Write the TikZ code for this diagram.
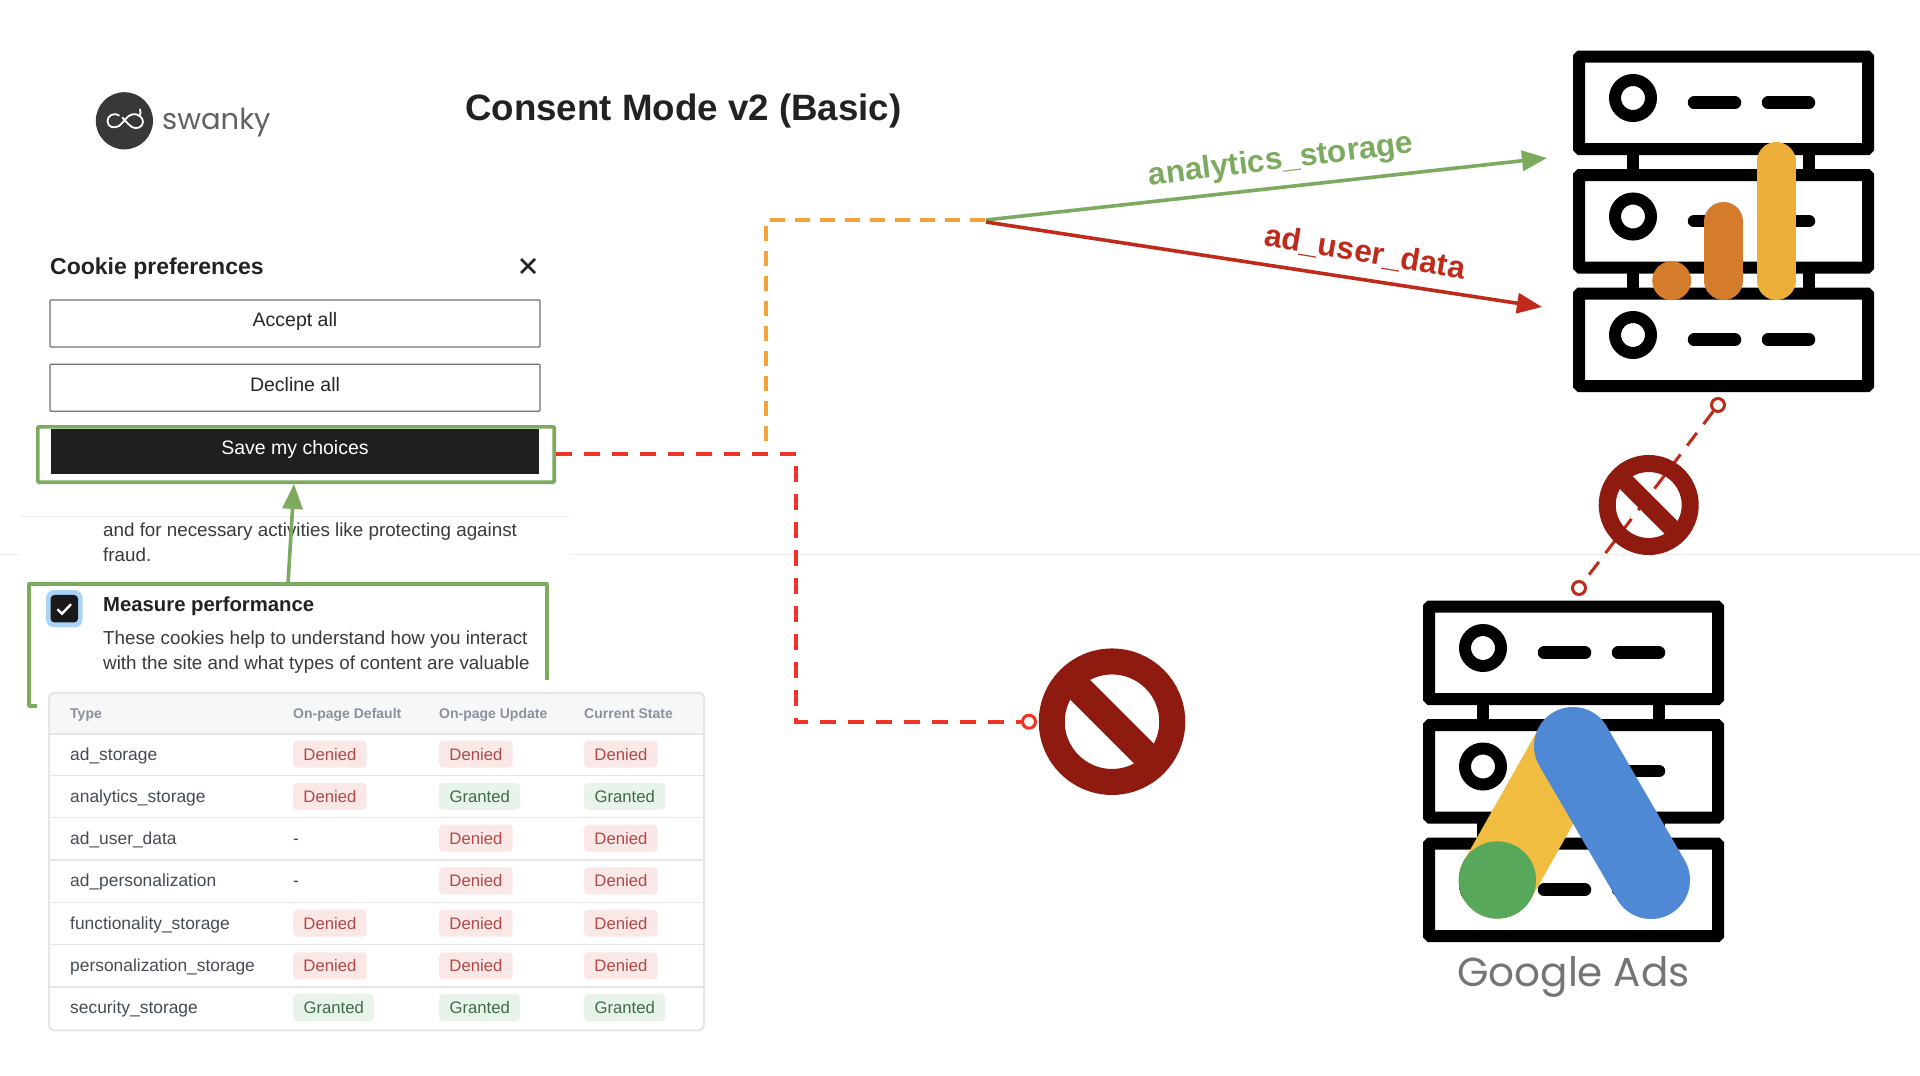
\documentclass[tikz,border=0pt]{standalone}
\usepackage{fontspec}
\setmainfont{Liberation Sans}
\newfontfamily\logofont{Poppins}
\usetikzlibrary{arrows.meta,positioning}
\definecolor{framegreen}{HTML}{7CAB5F}
\definecolor{linered}{HTML}{F03324}
\definecolor{lineorange}{HTML}{F3A33A}
\definecolor{darkred}{HTML}{BF2A1A}
\definecolor{banred}{HTML}{8F1A0F}
\definecolor{faint}{HTML}{F1EFED}
\definecolor{inkdark}{HTML}{222222}
\definecolor{inkbody}{HTML}{3A3A3A}
\definecolor{rowink}{HTML}{454B54}
\definecolor{headink}{HTML}{8A919C}
\definecolor{tableline}{HTML}{E4E6EA}
\definecolor{headfill}{HTML}{F6F7F9}
\definecolor{deniedfill}{HTML}{F9E8E6}
\definecolor{deniedink}{HTML}{B04A48}
\definecolor{grantedfill}{HTML}{E8F3E9}
\definecolor{grantedink}{HTML}{3F6B46}
\definecolor{gabar}{HTML}{EDAE3A}
\definecolor{gadot}{HTML}{D47B2C}
\definecolor{adsblue}{HTML}{4F88D4}
\definecolor{adsyellow}{HTML}{F1BD40}
\definecolor{adsgreen}{HTML}{57A85B}
\definecolor{halo}{HTML}{A9D4F5}
\newcommand{\fsize}[1]{\fontsize{#1}{#1}\selectfont}
\tikzset{
    x = 1pt, y = -1pt,
    btn/.style = { draw = black!55, line width = 1.3pt, rectangle, rounded corners = 1pt,
        minimum width = 490pt, minimum height = 47pt, inner sep = 0pt
    },
    btn_text/.style = { font = \fsize{19.5}, text = black!85, inner sep = 0pt },
    para/.style = { anchor = west, inner sep = 0pt, font = \fsize{18.8}, text = inkbody,
        text height = 13pt, text depth = 2pt
    },
    rowlabel/.style = { anchor = west, inner sep = 0pt, font = \fsize{17.4}, text = rowink,
        text height = 13pt, text depth = 1pt
    },
    headlabel/.style = { anchor = west, inner sep = 0pt, font = \fsize{14}\bfseries, text = headink,
        text height = 10pt, text depth = 0pt
    },
    badge/.style = { anchor = west, inner sep = 0pt, rounded corners = 4pt,
        minimum height = 27pt, font = \fsize{16.7},
        text height = 13pt, text depth = 1pt
    },
    state d/.style = { badge, fill = deniedfill, text = deniedink, minimum width = 73.5pt, node contents = {Denied} },
    state g/.style = { badge, fill = grantedfill, text = grantedink, minimum width = 81pt, node contents = {Granted} },
    state n/.style = { rowlabel, node contents = {-} },
    greenframe/.style = { draw = framegreen, line width = 3.6pt, line join = round },
    greenarrow/.style = { -{Triangle[length = 25pt, width = 20pt]}, draw = framegreen, line width = 3.6pt },
    redarrow/.style = { -{Triangle[length = 25pt, width = 20pt]}, draw = darkred, line width = 3.6pt },
    dashred/.style = { draw = linered, line width = 3.6pt, dash pattern = on 16pt off 12pt },
    dashorange/.style = { draw = lineorange, line width = 3.2pt, dash pattern = on 15pt off 10pt },
    dashdark/.style = { draw = darkred, line width = 3pt, dash pattern = on 16pt off 11pt },
    endring/.style = { circle, draw, fill = white, line width = 3pt, minimum size = 13pt, inner sep = 0pt },
    banring/.style = { circle, draw = banred, inner sep = 0pt, outer sep = 0pt },
    serverstack/.pic = {
        \foreach \rowtop in {0,118.5,237} {
            \draw[line width = 12pt, rounded corners = 1pt] (0,\rowtop) rectangle (289,\rowtop+92.3);
            \draw[line width = 12pt] (54,\rowtop+41.3) circle (18);
            \draw[line width = 12.5pt, line cap = round] (115,\rowtop+46) -- (156,\rowtop+46);
            \draw[line width = 12.5pt, line cap = round] (189,\rowtop+46) -- (230,\rowtop+46);
        }
        \foreach \rowtop in {92.3,210.8} {
            \draw[line width = 12pt] (54,\rowtop) -- (54,\rowtop+26);
            \draw[line width = 12pt] (230,\rowtop) -- (230,\rowtop+26);
        }
    }
}
\begin{document}
\begin{tikzpicture}
        \fill[white] (0,0) rectangle (1920,1076);
        \useasboundingbox (0,0) rectangle (1920,1076);

        % faint page lines
        \coordinate (fa) at (0,554.5);
        \coordinate (fb) at (20,554.5);
        \coordinate (fc) at (571,554.5);
        \coordinate (fd) at (1920,554.5);
        \coordinate (fe) at (20,516.5);
        \coordinate (ff) at (571,516.5);
        \draw[faint, line width = 1.5pt] (fa) -- (fb) (fc) -- (fd) (fe) -- (ff);

        % logo
        \fill[black!78] (124.4,120.8) circle (28.6);
        \draw[white, line width = 1.8pt, line cap = round]
            (119,115.5) .. controls (113,112) and (107.5,116) .. (107.5,121)
            .. controls (107.5,127) and (114,129) .. (119,126)
            .. controls (124,122) and (127,115.5) .. (132,114.5)
            .. controls (139,113) and (143,118) .. (143,122)
            .. controls (143,127) and (136,130) .. (132,127)
            .. controls (128,124) and (125,121) .. (122.5,117.5);
        \draw[white, line width = 1.8pt, line cap = round] (139,116) .. controls (141,114) and (141,112) .. (140,109.5);
        \node (swanky) [anchor = west, inner sep = 0pt, font = \logofont\fsize{29}, text = black!62] at (162,122.5) {swanky};

        \node (title) [anchor = west, inner sep = 0pt, font = \fsize{36.7}\bfseries, text = inkdark] at (465,111.5) {Consent Mode v2 (Basic)};

        % cookie panel
        \node (cookie) [anchor = west, inner sep = 0pt, font = \fsize{23}\bfseries, text = inkdark] at (50,268.5) {Cookie preferences};
        \draw[inkdark, line width = 2.6pt] (521,259) -- (535,273) (521,273) -- (535,259);

        \node[btn] (accept) at (295,323.5) {};
        \node[btn_text] (accepttext) at (295,321) {Accept all};
        \node[btn] (decline) [below = 16pt of accept] {};
        \node[btn_text] (declinetext) at (295,385) {Decline all};
        \node (savebox) [draw = framegreen, line width = 3.6pt, minimum width = 516.4pt, minimum height = 55.4pt, inner sep = 0pt, rounded corners = 1pt] at (296,454.5) {};
        \node (savebtn) [fill = black!88, minimum width = 488pt, minimum height = 45pt, inner sep = 0pt] at (295,451.5) {};
        \node[btn_text, text = white] (savetext) at (295,449.5) {Save my choices};

        \node[para] (fraudA) at (103,531) {and for necessary activities like protecting against};
        \node[para] (fraudB) at (103,555.8) {fraud.};

        % measure box, open at the bottom
        \coordinate (mA) at (37,706);
        \coordinate (mB) at (29,706);
        \coordinate (mC) at (29,583.7);
        \coordinate (mD) at (288,583.7);
        \coordinate (mE) at (547,583.7);
        \coordinate (mF) at (547,679.8);
        \draw[greenframe] (mA) -- (mB) -- (mC) -- (mE) -- (mF);
        \draw[greenarrow] (mD) -- (savebox.south -| 294,0);

        \node (halobox) [fill = halo, minimum width = 36.5pt, minimum height = 37.4pt, rounded corners = 8pt, inner sep = 0pt] at (64.3,608.7) {};
        \node (check) [fill = black!90, minimum width = 27.5pt, minimum height = 27.5pt, rounded corners = 4pt, inner sep = 0pt] at (64.3,608.7) {};
        \draw[white, line width = 2.4pt] (57.5,609.2) -- (62,613.7) -- (71,604.2);

        \node (measure) [anchor = west, inner sep = 0pt, font = \fsize{20.3}\bfseries, text = inkdark] at (103,606.5) {Measure performance};
        \node[para] (paraA) at (103,638.8) {These cookies help to understand how you interact};
        \node[para] (paraB) at (103,663.6) {with the site and what types of content are valuable};

        % consent table
        \fill[headfill, rounded corners = 5pt] (49,693) rectangle (704,734);
        \node (tablebox) [draw = tableline, line width = 2pt, rounded corners = 5pt, minimum width = 655pt, minimum height = 337.5pt, inner sep = 0pt] at (376.5,861.5) {};
        \foreach \rowy in {734,775.5,817.5,860.2,902.6,944.6,986.9} {
            \draw[tableline, line width = 1.6pt] (tablebox.west |- 0,\rowy) -- (tablebox.east |- 0,\rowy);
        }
        \node[headlabel] (hType) at (70,713.5) {Type};
        \node[headlabel] (hDefault) at (293,713.5) {On-page Default};
        \node[headlabel] (hUpdate) at (439,713.5) {On-page Update};
        \node[headlabel] (hCurrent) at (584,713.5) {Current State};
        \foreach \n/\rowy/\name/\sa/\sb/\sc in {
            1/754/ad\_storage/d/d/d,
            2/796.5/analytics\_storage/d/g/g,
            3/838/ad\_user\_data/n/d/d,
            4/880.9/ad\_personalization/n/d/d,
            5/923.2/functionality\_storage/d/d/d,
            6/965.9/personalization\_storage/d/d/d,
            7/1007.6/security\_storage/g/g/g} {
            \node[rowlabel] (row\n) at (70,\rowy) {\name};
            \node (cell\n a) at (293,\rowy) [state \sa];
            \node (cell\n b) at (439,\rowy) [state \sb];
            \node (cell\n c) at (584,\rowy) [state \sc];
        }

        % dashed routes
        \coordinate (split) at (986,220);
        \coordinate (turnred) at (796,454);
        \coordinate (orangefoot) at (766,441);
        \coordinate (orangetop) at (766,220);
        \node[endring, draw = linered] (stopend) at (1029,721.7) {};
        \draw[dashred] (savebox.east |- turnred) -- (turnred) |- (stopend);
        \draw[dashorange] (orangefoot) -- (orangetop) -- (split);
        \node[banring, line width = 26pt, minimum size = 120.5pt] (stopbig) at (1112,721.7) {};
        \draw[banred, line width = 28pt] (stopbig.135) -- (stopbig.-45);

        % analytics server
        \pic[black] at (1579,56.7) {serverstack};
        \draw[gabar, line width = 39pt, line cap = round] (1776,161.5) -- (1776,280.5);
        \draw[gadot, line width = 39pt, line cap = round] (1723.7,221.5) -- (1723.7,280.5);
        \fill[gadot] (1671.7,280.7) circle (19.5);

        \coordinate (gatop) at (1547,158);
        \coordinate (gabottom) at (1542,307);
        \draw[greenarrow] (split) -- (gatop);
        \draw[redarrow] (split) ++(0,2) -- (gabottom);
        \node (labelgreen) [rotate = 7, inner sep = 0pt, font = \fsize{31.5}\bfseries, text = framegreen] at (1281,161) {analytics\_storage};
        \node (labelred) [rotate = -9.5, inner sep = 0pt, font = \fsize{31.5}\bfseries, text = darkred] at (1365,253) {ad\_user\_data};

        % ads server
        \node[endring, draw = darkred] (gaend) at (1718,405) {};
        \node[endring, draw = darkred] (adsend) at (1579,588) {};
        \draw[dashdark] (gaend) -- (adsend);
        \node[banring, line width = 17pt, minimum size = 83pt] (stopsmall) at (1648.7,505) {};
        \draw[banred, line width = 18pt] (stopsmall.135) -- (stopsmall.-45);

        \pic[black] at (1429,606.7) {serverstack};
        \draw[adsyellow, line width = 77pt, line cap = round] (1497.3,880) -- (1573,746);
        \fill[adsgreen] (1497.3,880) circle (38.7);
        \draw[adsblue, line width = 78pt, line cap = round] (1573,746) -- (1651,880);
        \node (adstext) [inner sep = 0pt, font = \logofont\fsize{40.5}, text = black!54] at (1573.5,977) {Google Ads};

\end{tikzpicture}
\end{document}
